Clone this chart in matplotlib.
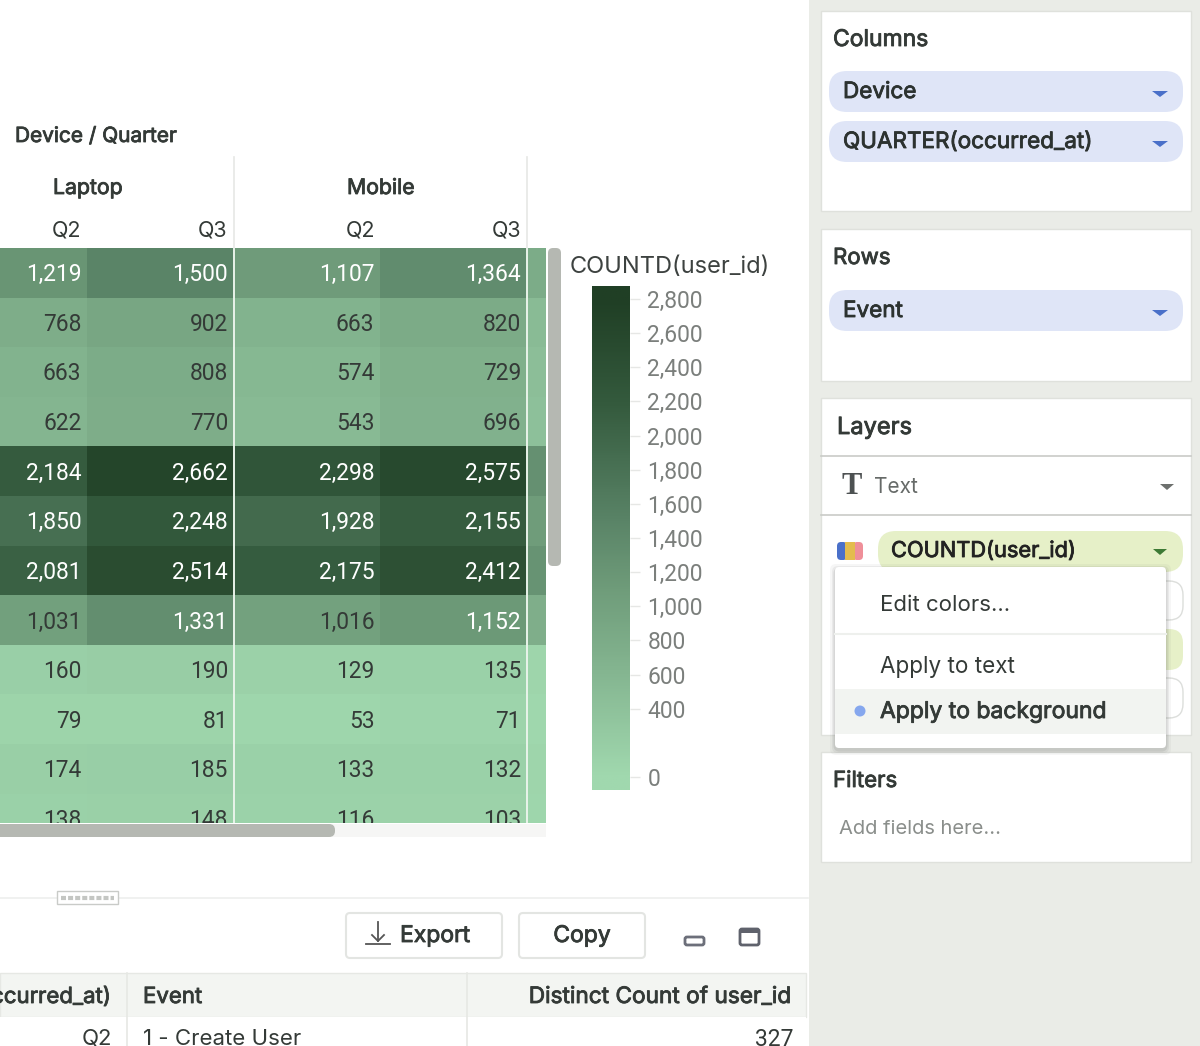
import numpy as np
import matplotlib
matplotlib.use('Agg')
import matplotlib.pyplot as plt
import matplotlib.patheffects as pe
from matplotlib.colors import LinearSegmentedColormap, Normalize
from matplotlib.patches import FancyBboxPatch, Rectangle, Polygon, Circle

plt.rcParams['font.family'] = ['Inter', 'DejaVu Sans']

W, H = 1200, 1046

devices = ['Laptop', 'Mobile']
quarters = ['Q2', 'Q3', 'Q2', 'Q3']
# rows top to bottom, columns laptop q2, q3, mobile q2, q3, then the cut off column
laptop_q2 = [1219, 768, 663, 622, 2184, 1850, 2081, 1031, 160, 79, 174, 138]
laptop_q3 = [1500, 902, 808, 770, 2662, 2248, 2514, 1331, 190, 81, 185, 148]
mobile_q2 = [1107, 663, 574, 543, 2298, 1928, 2175, 1016, 129, 53, 133, 116]
mobile_q3 = [1364, 820, 729, 696, 2575, 2155, 2412, 1152, 135, 71, 132, 103]
cut_off_col = [800, 520, 450, 420, 1300, 1100, 1250, 750, 60, 30, 60, 45]

legend_ticks = [0, 400, 600, 800, 1000, 1200, 1400, 1600, 1800, 2000, 2200, 2400, 2600, 2800]

stop_vals = [0, 600, 1100, 1500, 2200, 2800]
stop_cols = ['#a0d8ae', '#85b691', '#6f9c7a', '#5a8467', '#345a3d', '#203f25']
cmap = LinearSegmentedColormap.from_list('greens', [(v / 2800, c) for v, c in zip(stop_vals, stop_cols)])
norm = Normalize(0, 2800)

INK = '#343a37'
GREY = '#7b7f7c'
NUM_FONT = 'Roboto'

fig = plt.figure(figsize=(W / 100, H / 100), dpi=100, facecolor='white')


def px_axes(x0, y0, x1, y1, **kw):
    return fig.add_axes([x0 / W, 1 - y1 / H, (x1 - x0) / W, (y1 - y0) / H], **kw)


# page furniture, in pixel coordinates
ax = px_axes(0, 0, W, H)
ax.set_xlim(0, W)
ax.set_ylim(H, 0)
ax.axis('off')


def box(x0, y0, x1, y1, fc='white', ec='none', lw=1, r=0, z=1, alpha=None):
    if r:
        p = FancyBboxPatch((x0 + r, y0 + r), x1 - x0 - 2 * r, y1 - y0 - 2 * r,
                           boxstyle='round,pad=%s,rounding_size=%s' % (r, r),
                           fc=fc, ec=ec, lw=lw, zorder=z, alpha=alpha)
    else:
        p = Rectangle((x0, y0), x1 - x0, y1 - y0, fc=fc, ec=ec, lw=lw, zorder=z, alpha=alpha)
    ax.add_patch(p)


def label(x, y, s, size=16, color=INK, heavy=False, ha='left', z=6, family=None):
    t = ax.text(x, y + 2, s, fontsize=size, color=color, ha=ha, va='center', zorder=z, family=family)
    if heavy:
        t.set_path_effects([pe.withStroke(linewidth=0.6, foreground=color)])


def arrow(x, y, color, w=8, h=6, z=5):
    ax.add_patch(Polygon([(x - w, y - h / 2), (x + w, y - h / 2), (x, y + h / 2)], fc=color, ec='none', zorder=z))


# right panel
box(809, 0, W, H, fc='#eaece7')
for y0, y1 in [(11, 211), (229, 381), (398, 735), (752, 862)]:
    box(821, y0, 1191, y1, fc='white', ec='#dfe1dc')

label(833, 38, 'Columns', heavy=True, size=16.5)
label(833, 256, 'Rows', heavy=True)
label(837, 426, 'Layers', heavy=True, size=17)
label(833, 779, 'Filters', heavy=True)
label(839, 827, 'Add fields here...', size=14.5, color='#8a8e8b')

for y0, txt in [(71, 'Device'), (121, 'QUARTER(occurred_at)'), (290, 'Event')]:
    box(829, y0, 1183, y0 + 41, fc='#dfe5f7', r=18)
    label(843, y0 + 19, txt, heavy=True, color='#2c3230', size=16.2)
    arrow(1160, y0 + 23, '#4a70c9')

ax.plot([821, 1191], [456, 456], color='#c9cbc7', lw=1.2, zorder=2)
ax.plot([821, 1191], [515, 515], color='#c9cbc7', lw=1.2, zorder=2)
ax.text(852, 486, 'T', fontsize=22, family='Liberation Serif', weight='bold', color='#4d5152', ha='center', va='center')
label(874, 485, 'Text', size=15, color='#666a68')
arrow(1167, 487, '#6d706e', w=7)

# colour chip next to the field pill
box(837, 542, 847, 560, fc='#4a70c9', r=4)
box(845, 542, 855, 560, fc='#e3bc4d', z=2)
box(853, 542, 863, 560, fc='#ef8f99', r=4)
box(878, 531, 1183, 572, fc='#e6f0c8', r=18)
label(891, 549, 'COUNTD(user_id)', heavy=True, color='#222', size=15.7)
arrow(1160, 552, '#3d7a35', w=7)

# pills behind the open menu
box(1100, 581, 1183, 620, fc='white', ec='#dcdedb', r=14)
box(1100, 629, 1183, 670, fc='#e6f0c8', r=14)
box(1100, 678, 1183, 718, fc='white', ec='#dcdedb', r=14)

# menu
for grow, a in [(5, 0.05), (3, 0.08), (1.5, 0.12)]:
    box(835 - grow, 567 + 2 - grow, 1166 + grow, 748 + 2 + grow, fc='#555', r=6, z=3, alpha=a)
box(835, 567, 1166, 748, fc='white', r=4, z=4)
ax.plot([835, 1166], [634, 634], color='#eef0ed', lw=1.5, zorder=5)
ax.add_patch(Rectangle((835, 689), 331, 45, fc='#f2f4f1', ec='none', zorder=5))
ax.add_patch(Circle((860, 711), 5.5, fc='#86a7ee', ec='none', zorder=6))
label(880, 603, 'Edit colors...')
label(880, 665, 'Apply to text', size=16.2)
label(880, 710, 'Apply to background', heavy=True, size=16.5)

# heatmap headers
label(15, 134, 'Device / Quarter', heavy=True, size=15)
label(53, 186, devices[0], heavy=True, size=15.3)
label(347, 186, devices[1], heavy=True, size=15.3)
for x, q in zip([81, 227, 375, 521], quarters):
    label(x, 229, q, ha='right', size=15.5)
for x in (234, 527):
    ax.plot([x, x], [157, 248], color='#e6e7e5', lw=1.2, zorder=2)

# heatmap, one unit per cell
CELL_W, CELL_H = 146.6, 49.6
heat = np.array([laptop_q2, laptop_q3, mobile_q2, mobile_q3, cut_off_col]).T
hax = px_axes(0, 248, 546, 823)
hax.set_xlim(1 - 87.5 / CELL_W, 4 + 19 / CELL_W)
hax.set_ylim(575 / CELL_H, 0)
hax.axis('off')
hax.pcolormesh(np.arange(6), np.arange(13), heat, cmap=cmap, norm=norm)
for r in range(heat.shape[0]):
    for c in range(4):
        v = heat[r, c]
        hax.annotate(f'{v:,}', (c + 1, r + 0.5), xytext=(-6, -2), textcoords='offset pixels',
                     ha='right', va='center', fontsize=16.4, family=NUM_FONT,
                     color='white' if v >= 1100 else INK, annotation_clip=True, clip_on=True)
for c in (2, 4):
    hax.axvline(c, color='#e9f3ea', lw=1.4)

# scrollbars
box(548, 248, 561, 566, fc='#b5b8b2', r=5)
box(0, 824, 546, 837, fc='#f6f6f5')
box(-10, 824, 335, 837, fc='#b5b8b2', r=6, z=2)

# legend
label(570, 265, 'COUNTD(user_id)', size=17, color='#3d4240')
lax = px_axes(592, 286, 630, 790)
val_top = 2800 + (299 - 286) / 0.1707
val_bot = -(790 - 777) / 0.1707
lax.imshow(np.linspace(val_top, val_bot, 256).reshape(-1, 1), cmap=cmap, norm=norm, aspect='auto',
           extent=[0, 1, val_bot, val_top])
lax.set_xticks([])
lax.yaxis.tick_right()
lax.set_yticks(legend_ticks)
lax.set_yticklabels([f'{t:,}' for t in legend_ticks], fontsize=16.4, color=GREY, family=NUM_FONT)
lax.tick_params(axis='y', length=7.5, width=1, color='#e6e7e5', pad=5)
for s in lax.spines.values():
    s.set_visible(False)

# lower strip
ax.plot([0, 808], [898, 898], color='#eeefed', lw=1.2)
box(57, 891, 118, 904, fc='white', ec='#c9cbc8', lw=1, z=2)
ax.plot([61, 114], [898, 898], color='#c4c6c3', lw=3, ls=(0, (1.2, 0.5)), zorder=3)

box(346, 913, 502, 958, fc='white', ec='#e3e5e2', lw=1.5, r=4)
box(519, 913, 645, 958, fc='white', ec='#e3e5e2', lw=1.5, r=4)
ax.plot([378, 378], [922, 941], color='#555', lw=1.3, zorder=5)
ax.plot([372, 378, 384], [935, 941, 935], color='#555', lw=1.3, zorder=5)
ax.plot([366, 390], [944, 944], color='#555', lw=1.3, zorder=5)
label(400, 934, 'Export', heavy=True, size=16.5)
label(582, 934, 'Copy', heavy=True, ha='center', size=16.5)
box(685, 937, 704, 945, fc='white', ec='#6c6f7a', lw=2, r=2)
box(740, 929, 759, 945, fc='white', ec='#5f626c', lw=2, r=2)
box(740, 929, 759, 933, fc='#5f626c')

box(0, 973, 806, 1017, fc='#f3f5f2', ec='#e6e8e4')
box(0, 1017, 806, 1046, fc='white')
for x in (127, 467):
    ax.plot([x, x], [973, 1046], color='#e6e8e4', lw=1.2, zorder=3)
label(111, 995, 'ccurred_at)', heavy=True, ha='right')
label(143, 995, 'Event', heavy=True)
label(791, 995, 'Distinct Count of user_id', heavy=True, ha='right', size=16.3)
label(112, 1037, 'Q2', ha='right')
label(143, 1037, '1 - Create User')
label(793, 1037, '327', ha='right', family=NUM_FONT, size=16.5)

fig.savefig('out.png', dpi=100)
